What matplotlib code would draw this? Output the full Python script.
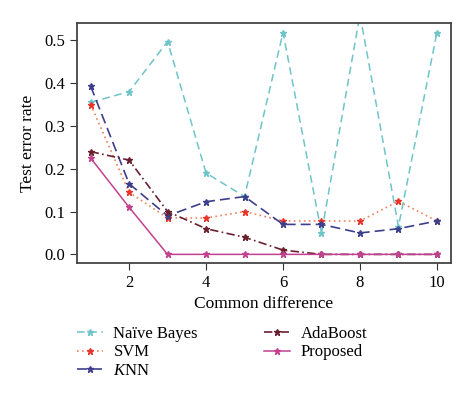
import numpy as np
import matplotlib
matplotlib.use('Agg')
import matplotlib.pyplot as plt

plt.rcParams['font.family'] = ['Liberation Serif', 'DejaVu Serif']
plt.rcParams['mathtext.fontset'] = 'custom'
plt.rcParams['mathtext.it'] = 'Liberation Serif:italic'
plt.rcParams['mathtext.rm'] = 'Liberation Serif'

diff = [1, 2, 3, 4, 5, 6, 7, 8, 9, 10]
naive_bayes = [0.355, 0.38, 0.497, 0.19, 0.135, 0.518, 0.05, 0.56, 0.065, 0.518]
svm = [0.35, 0.145, 0.085, 0.085, 0.10, 0.078, 0.078, 0.078, 0.124, 0.078]
knn = [0.393, 0.165, 0.09, 0.123, 0.135, 0.07, 0.07, 0.05, 0.06, 0.078]
adaboost = [0.24, 0.22, 0.10, 0.06, 0.04, 0.01, 0.0, 0.0, 0.0, 0.0]
proposed = [0.225, 0.11, 0.0, 0.0, 0.0, 0.0, 0.0, 0.0, 0.0, 0.0]

fig = plt.figure(figsize=(4.74, 3.99), dpi=100)
ax = fig.add_axes([0.162, 0.341, 0.789, 0.601])

ms = 4.5
ax.plot(diff, naive_bayes, color='#6ec4c9', ls=(0, (5, 3)), lw=1.1,
        marker='*', ms=ms, label='Naïve Bayes')
ax.plot(diff, svm, color='#f08060', ls=(0, (1, 2)), lw=1.2,
        marker='*', ms=ms, mfc='#e8352a', mec='#e8352a', label='SVM')
ax.plot(diff, knn, color='#3d3f8c', ls=(0, (6, 3)), lw=1.2,
        marker='*', ms=ms, label='$\\mathit{K}$NN')
ax.plot(diff, adaboost, color='#6a1f2e', ls=(0, (5, 2, 1, 2)), lw=1.2,
        marker='*', ms=ms, label='AdaBoost')
ax.plot(diff, proposed, color='#c2418f', ls='-', lw=1.1,
        marker='*', ms=ms, label='Proposed')

ax.set_xlim(0.64, 10.36)
ax.set_ylim(-0.02, 0.54)
ax.set_xticks([2, 4, 6, 8, 10])
ax.set_yticks([0.0, 0.1, 0.2, 0.3, 0.4, 0.5])
ax.set_yticklabels(['0.0', '0.1', '0.2', '0.3', '0.4', '0.5'])
ax.tick_params(labelsize=12, length=5, color='#333333')
for s in ax.spines.values():
    s.set_color('#444444')
    s.set_linewidth(1.3)

ax.set_xlabel('Common difference', fontsize=12.5, labelpad=4)
ax.set_ylabel('Test error rate', fontsize=12.5, labelpad=6)

h, l = ax.get_legend_handles_labels()
fig.legend(h, l, ncol=2,
           loc='upper left', bbox_to_anchor=(0.148, 0.2), frameon=False,
           fontsize=12, handlelength=1.6, handletextpad=0.6,
           columnspacing=3.95, labelspacing=0.15, borderaxespad=0)

fig.savefig('out.png', dpi=100)
